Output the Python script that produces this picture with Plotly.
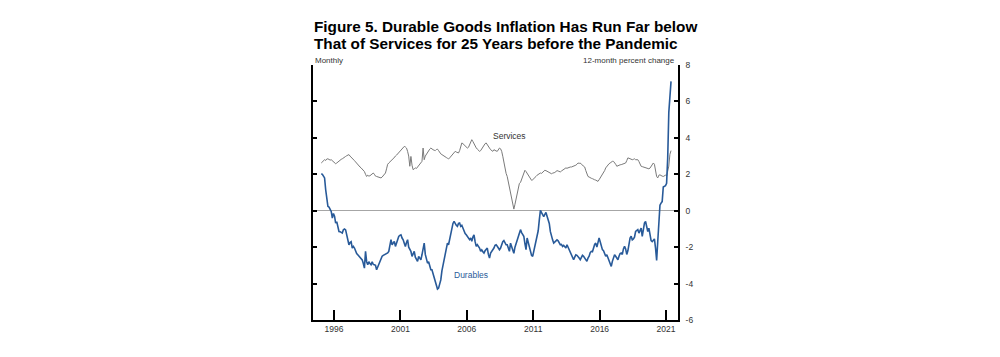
import plotly.graph_objects as go

# Monthly data, Jan 1995 - May 2021 (12-month percent change)
start_year = 1995
services = [
    2.62, 2.7, 2.78, 2.8, 2.76, 2.84, 2.85, 2.82, 2.78, 2.8, 2.75, 2.7,
    2.62, 2.58, 2.62, 2.68, 2.75, 2.8, 2.82, 2.85, 2.88, 2.92, 2.98, 3.02,
    3.05, 3.08, 3.0, 2.95, 2.9, 2.85, 2.75, 2.68, 2.6, 2.52, 2.45, 2.4,
    2.35, 2.28, 2.2, 2.15, 2.0, 1.88, 1.95, 1.9, 1.92, 1.98, 2.05, 2.07,
    2.0, 1.9, 1.88, 1.85, 1.82, 1.79, 1.8, 1.85, 1.92, 2.0, 2.07, 2.3,
    2.55, 2.62, 2.7, 2.78, 2.8, 2.85, 2.95, 3.0, 3.05, 3.12, 3.17, 3.25,
    3.35, 3.4, 3.45, 3.53, 3.5, 3.44, 3.26, 3.0, 2.44, 2.98, 2.5, 2.25,
    2.3, 2.35, 2.32, 2.4, 2.44, 2.5, 2.6, 2.71, 3.44, 2.8, 3.0, 3.1,
    3.26, 3.3, 3.38, 3.44, 3.38, 3.35, 3.32, 3.3, 3.36, 3.38, 3.3, 3.2,
    3.12, 3.08, 3.05, 3.0, 2.98, 2.92, 2.88, 2.84, 2.9, 2.98, 3.08, 3.15,
    3.2, 3.26, 3.22, 3.2, 3.17, 3.3, 3.5, 3.72, 3.68, 3.62, 3.55, 3.5,
    3.44, 3.48, 3.6, 3.75, 3.9, 3.8, 3.65, 3.53, 3.45, 3.38, 3.3, 3.26,
    3.3, 3.4, 3.53, 3.6, 3.68, 3.72, 3.6, 3.5, 3.44, 3.35, 3.28, 3.26,
    3.35, 3.3, 3.28, 3.26, 3.35, 3.44, 3.4, 3.26, 2.99, 2.62, 2.3, 2.05,
    1.88, 1.6, 1.3, 1.0, 0.6, 0.3, 0.09, 0.35, 0.6, 0.9, 1.2, 1.5,
    1.55, 1.75, 1.95, 2.1, 2.22, 2.15, 2.05, 1.97, 1.85, 1.75, 1.67, 1.7,
    1.78, 1.85, 1.88, 1.95, 2.0, 2.05, 2.07, 2.05, 2.12, 2.18, 2.22, 2.2,
    2.16, 2.12, 2.1, 2.05, 2.03, 2.06, 2.07, 2.1, 2.15, 2.2, 2.18, 2.13,
    2.13, 2.18, 2.22, 2.25, 2.3, 2.35, 2.33, 2.36, 2.38, 2.4, 2.4, 2.42,
    2.42, 2.45, 2.5, 2.55, 2.62, 2.6, 2.62, 2.55, 2.5, 2.44, 2.4, 2.2,
    2.0, 1.88, 1.85, 1.8, 1.78, 1.76, 1.75, 1.7, 1.68, 1.65, 1.61, 1.7,
    1.8, 1.92, 2.0, 2.07, 2.2, 2.35, 2.45, 2.53, 2.58, 2.62, 2.68, 2.71,
    2.71, 2.65, 2.55, 2.44, 2.48, 2.5, 2.52, 2.53, 2.55, 2.58, 2.6, 2.62,
    2.75, 2.9, 2.88, 2.85, 2.82, 2.8, 2.82, 2.85, 2.8, 2.78, 2.8, 2.7,
    2.5, 2.44, 2.42, 2.4, 2.38, 2.36, 2.34, 2.35, 2.3, 2.34, 2.45, 2.55,
    2.62, 2.55, 2.2, 1.88, 1.8, 1.95, 1.97, 1.92, 1.9, 1.88, 1.92, 1.95,
    1.9, 2.2, 2.45, 3.1, 3.3,
]
durables = [
    2.03, 2.0, 1.9, 1.8, 1.15, 0.6, 0.24, 0.2, 0.05, -0.04, -0.4, -0.15,
    -0.3, -0.68, -0.6, -0.85, -1.14, -1.15, -1.2, -1.23, -1.05, -1.0, -1.05, -1.4,
    -1.6, -1.87, -1.75, -1.7, -2.05, -1.96, -2.05, -2.23, -2.35, -2.42, -2.5, -2.55,
    -2.6, -2.7, -2.9, -3.15, -2.23, -2.8, -2.97, -2.8, -2.9, -2.97, -2.8, -2.95,
    -2.97, -3.0, -3.24, -3.1, -2.97, -2.75, -2.6, -2.5, -2.45, -2.42, -2.42, -2.35,
    -2.32, -2.23, -1.9, -1.59, -1.87, -1.75, -1.68, -1.96, -1.75, -1.59, -1.41, -1.35,
    -1.32, -1.5, -1.6, -1.78, -1.96, -1.75, -1.59, -2.0, -2.1, -2.23, -2.51, -2.3,
    -2.23, -2.55, -2.7, -2.78, -2.51, -2.6, -2.7, -2.42, -2.1, -1.78, -2.4, -2.7,
    -2.88, -2.8, -3.0, -3.24, -3.24, -3.45, -3.7, -3.88, -4.0, -4.3, -4.25, -4.0,
    -3.8, -3.3, -3.0, -2.75, -2.5, -2.1, -1.78, -1.87, -1.6, -1.2, -0.9, -0.7,
    -0.59, -0.72, -0.8, -0.86, -0.7, -0.68, -0.86, -0.8, -0.95, -1.14, -1.25, -1.32,
    -1.41, -1.5, -1.59, -1.5, -1.68, -1.45, -1.32, -1.7, -1.96, -1.87, -1.95, -2.05,
    -2.23, -2.15, -2.25, -2.32, -2.2, -2.14, -2.05, -2.4, -2.6, -2.32, -2.25, -2.15,
    -2.05, -1.9, -1.87, -1.95, -2.05, -2.14, -2.05, -1.8, -1.7, -1.64, -1.75, -1.87,
    -1.87, -2.1, -2.23, -1.78, -1.95, -2.2, -2.34, -2.0, -1.8, -1.6, -1.35, -1.1,
    -1.04, -1.2, -1.3, -1.4, -1.8, -2.14, -1.5, -1.75, -1.96, -2.3, -2.45, -2.51,
    -2.25, -1.9, -1.64, -1.5, -1.1, -0.5, 0.02, -0.1, -0.25, -0.33, -0.2, -0.1,
    -0.3, -0.5, -0.7, -1.15, -1.45, -1.6, -1.78, -1.72, -1.7, -1.6, -1.65, -1.75,
    -1.87, -1.85, -1.96, -1.9, -1.95, -2.05, -1.87, -2.0, -2.14, -2.23, -2.4, -2.5,
    -2.69, -2.55, -2.42, -2.45, -2.5, -2.6, -2.69, -2.55, -2.45, -2.5, -2.6, -2.7,
    -2.78, -2.6, -2.5, -2.3, -2.23, -2.25, -1.96, -1.85, -1.78, -2.0, -1.75, -1.5,
    -1.7, -1.95, -2.14, -2.2, -2.35, -2.5, -2.42, -2.6, -2.78, -2.9, -3.06, -2.78,
    -2.55, -2.42, -2.5, -2.6, -2.69, -2.5, -2.35, -2.32, -2.4, -2.1, -1.96, -2.1,
    -2.4, -2.2, -1.78, -1.5, -1.4, -1.6, -1.55, -1.45, -1.14, -1.1, -1.04, -1.23,
    -1.1, -0.96, -1.41, -1.0, -0.68, -0.59, -0.9, -1.14, -0.96, -1.3, -1.64, -1.7,
    -1.6, -1.55, -2.05, -2.73, -1.7, -0.6, 0.3, 0.42, 0.5, 1.3, 1.34, 1.37,
    1.5, 2.9, 5.4, 6.6, 7.1,
]
x_tick_vals = [1996, 2001, 2006, 2011, 2016, 2021]
x_tick_text = ["1996", "2001", "2006", "2011", "2016", "2021"]
y_tick_vals = [-6, -4, -2, 0, 2, 4, 6, 8]
y_tick_text = ["-6", "-4", "-2", "0", "2", "4", "6", "8"]

dates = [start_year + (i + 0.5) / 12 for i in range(len(services))]

FONT = "Liberation Sans, Arial, sans-serif"
BLUE = "#285a99"
GRAY = "#7a7a7a"
TXT = "#333333"

fig = go.Figure()
fig.add_trace(go.Scatter(x=dates, y=services, mode="lines",
                         line=dict(color=GRAY, width=1), hoverinfo="skip"))
fig.add_trace(go.Scatter(x=dates[:len(durables)], y=durables, mode="lines",
                         line=dict(color=BLUE, width=1.6), hoverinfo="skip"))

# page body has an 8px default margin, so the figure is sized to fit inside it
fig.update_layout(
    width=984, height=341,
    margin=dict(l=305, r=314, t=57, b=29),
    paper_bgcolor="white", plot_bgcolor="white",
    showlegend=False,
    font=dict(family=FONT, size=9, color=TXT),
    xaxis=dict(range=[1994.42, 2021.9], tickvals=x_tick_vals, ticktext=x_tick_text,
               ticks="inside", ticklen=10, tickwidth=2, tickcolor="black",
               showline=True, linecolor="black", linewidth=1.8,
               showgrid=False, zeroline=False,
               tickfont=dict(size=8.5, color=TXT, family=FONT)),
    yaxis=dict(range=[-6, 8], tickvals=y_tick_vals, ticktext=y_tick_text,
               side="right", ticks="inside", ticklen=4, tickwidth=1.5, tickcolor="black",
               showline=True, linecolor="black", linewidth=1.8, mirror="ticks",
               showgrid=False, zeroline=True, zerolinecolor="#a6a6a6", zerolinewidth=1,
               ticklabelstandoff=4,
               tickfont=dict(size=8.5, color=TXT, family=FONT)),
)

fig.add_annotation(text="<b>Figure 5. Durable Goods Inflation Has Run Far below</b>",
                   xref="paper", yref="paper", x=-0.003, y=1.150,
                   xanchor="left", yanchor="middle", showarrow=False,
                   font=dict(size=15.3, color="black", family=FONT))
fig.add_annotation(text="<b>That of Services for 25 Years before the Pandemic</b>",
                   xref="paper", yref="paper", x=-0.003, y=1.0855,
                   xanchor="left", yanchor="middle", showarrow=False,
                   font=dict(size=15.3, color="black", family=FONT))
fig.add_annotation(text="Monthly", xref="paper", yref="paper", x=0.0, y=1.018,
                   xanchor="left", yanchor="middle", showarrow=False,
                   font=dict(size=8, color=TXT, family=FONT))
fig.add_annotation(text="12-month percent change", xref="paper", yref="paper",
                   x=0.997, y=1.018, xanchor="right", yanchor="middle", showarrow=False,
                   font=dict(size=8, color=TXT, family=FONT))
fig.add_annotation(text="Services", x=2009.25, y=4.08, xref="x", yref="y",
                   showarrow=False, font=dict(size=8.5, color=TXT, family=FONT))
fig.add_annotation(text="Durables", x=2006.3, y=-3.52, xref="x", yref="y",
                   showarrow=False, font=dict(size=8.5, color=BLUE, family=FONT))

fig.write_html("out.html")
